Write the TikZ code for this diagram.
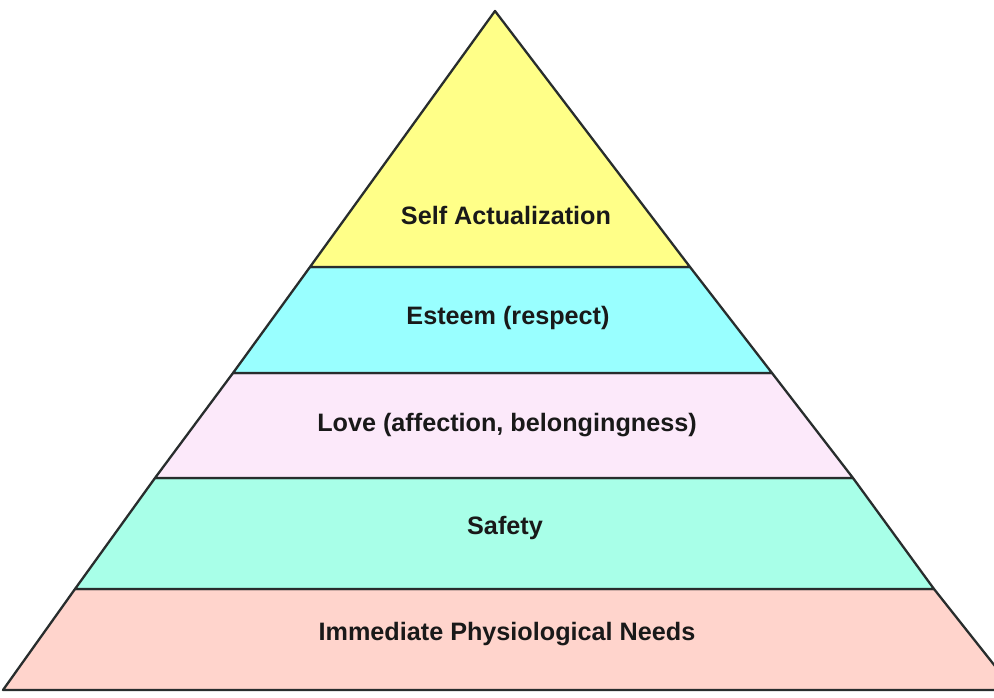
\documentclass[tikz,border=0pt]{standalone}
\usepackage{fontspec}
\setmainfont{Liberation Sans}
\definecolor{cYel}{RGB}{255,255,136}
\definecolor{cCyan}{RGB}{153,255,255}
\definecolor{cLav}{RGB}{252,233,250}
\definecolor{cAqua}{RGB}{168,255,232}
\definecolor{cPink}{RGB}{255,212,204}
\definecolor{cLine}{RGB}{40,45,45}
\tikzset{
  layer/.style={draw=cLine, line width=2.3pt, line join=round},
  lbl/.style={font=\fontsize{25.2}{29}\selectfont\bfseries, text=black!90, inner sep=0pt}
}
\begin{document}
\begin{tikzpicture}[x=1pt,y=-1pt]
\useasboundingbox (0,0) rectangle (994,697);
\fill[white] (0,0) rectangle (994,697);
\begin{scope}
\clip (0,0) rectangle (994,697);
\coordinate (A) at (495,11);
\filldraw[layer, fill=cPink] (75,589) -- (934,589) -- (1014,690) -- (3,690) -- cycle;
\filldraw[layer, fill=cAqua] (155,478) -- (853,478) -- (934,589) -- (75,589) -- cycle;
\filldraw[layer, fill=cLav] (233,373) -- (772,373) -- (853,478) -- (155,478) -- cycle;
\filldraw[layer, fill=cCyan] (310,267) -- (690,267) -- (772,373) -- (233,373) -- cycle;
\filldraw[layer, fill=cYel] (A) -- (690,267) -- (310,267) -- cycle;
\end{scope}
\node[lbl] (self) at (506,215) {Self Actualization};
\node[lbl] (esteem) at (508,318) {Esteem (respect)};
\node[lbl] (love) at (507,425) {Love (affection, belongingness)};
\node[lbl] (safety) at (505,528) {Safety};
\node[lbl] (phys) at (507,634) {Immediate Physiological Needs};
\end{tikzpicture}
\end{document}
